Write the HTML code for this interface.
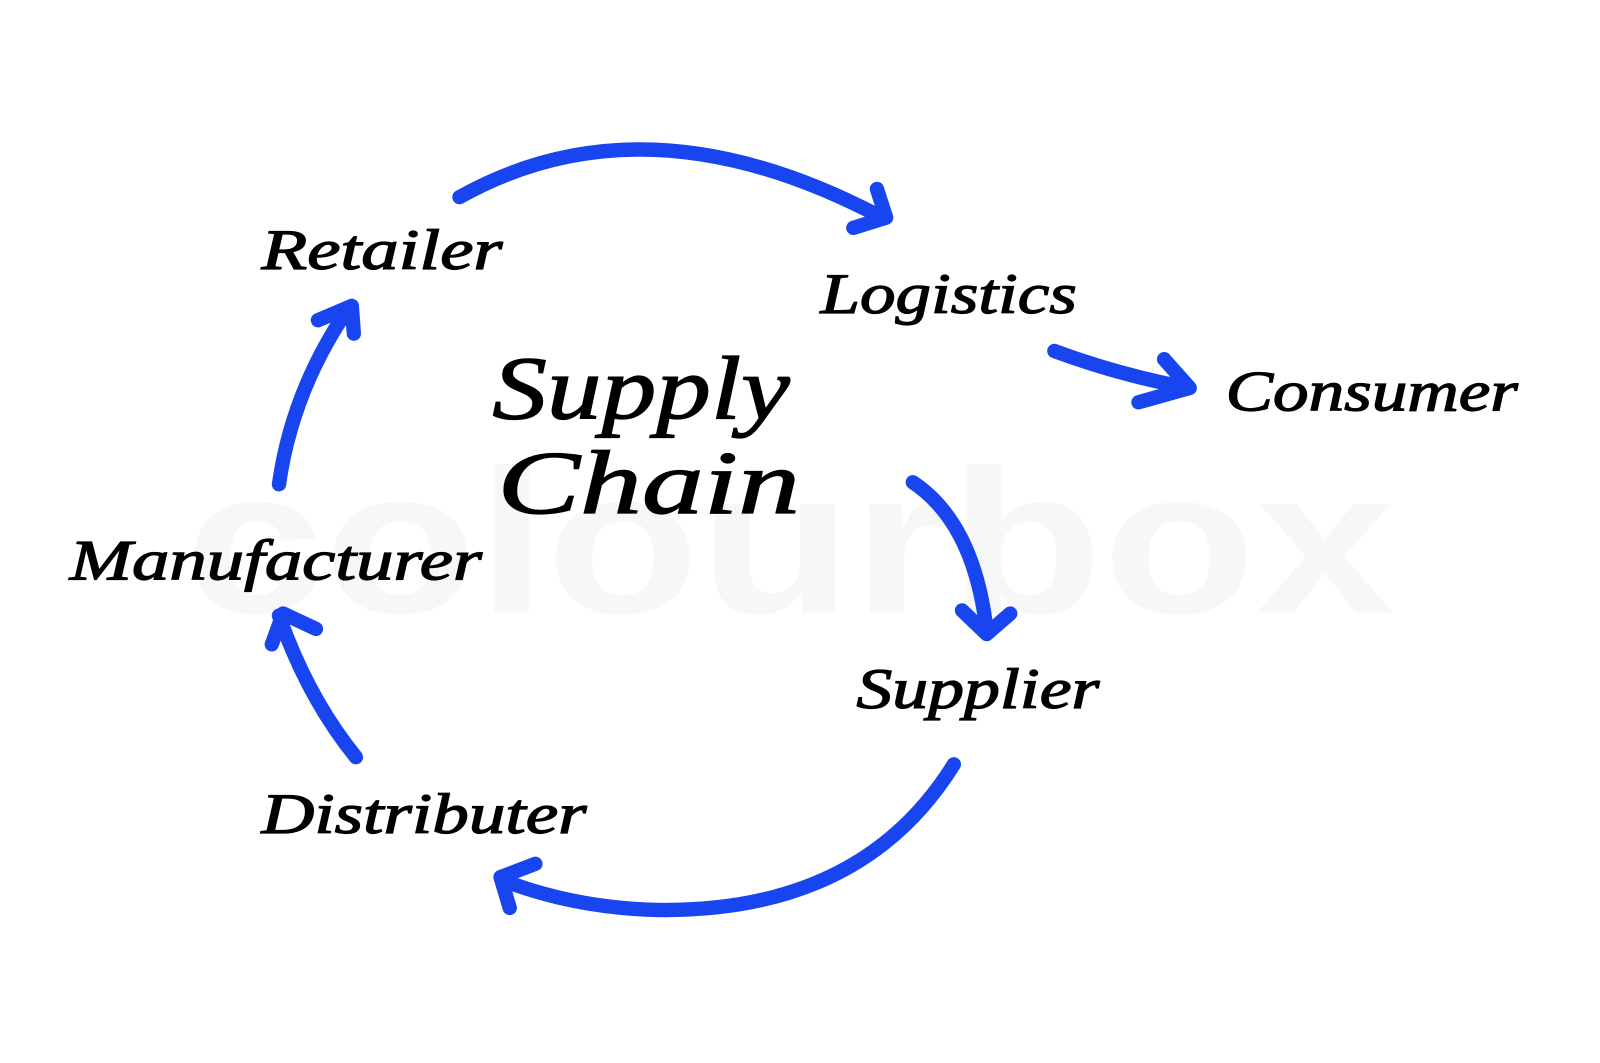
<!DOCTYPE html>
<html><head><style>body{margin:0;background:#fff}svg{display:block}</style></head><body>
<svg width="1600" height="1063" viewBox="0 0 1560 1036" xmlns="http://www.w3.org/2000/svg">
<rect width="1560" height="1036" fill="#fff"/>
<text x="180" y="597" font-family="Liberation Sans, sans-serif" font-weight="bold" font-size="200" fill="#f7f7f7" textLength="1180" lengthAdjust="spacingAndGlyphs">colourbox</text>
<g fill="none" stroke="#1845ef" stroke-width="14" stroke-linecap="round" stroke-linejoin="round">
<path d="M448,192 Q630,90 860,212"/><path d="M855,184 L864,212 L832,222"/>
<path d="M1028,342 Q1090,365 1158,378"/><path d="M1135,350 L1160,378 L1110,392"/>
<path d="M890,470 Q950,510 962,615"/><path d="M938,595 L962,618 L985,598"/>
<path d="M930,745 Q840,890 640,887 Q560,885 490,858"/><path d="M497,885 L488,855 L522,842"/>
<path d="M347,738 Q300,680 272,600"/><path d="M265,628 L276,598 L308,613"/>
<path d="M272,472 Q285,380 340,300"/><path d="M310,312 L343,298 L345,325"/>
</g>
<g font-family="Liberation Serif, serif" font-style="italic" fill="#000" stroke="#000" stroke-width="1.2" lengthAdjust="spacingAndGlyphs">
<text x="255" y="262" font-size="56" textLength="235" lengthAdjust="spacingAndGlyphs">Retailer</text>
<text x="800" y="305" font-size="56" textLength="250" lengthAdjust="spacingAndGlyphs">Logistics</text>
<text x="1195" y="400" font-size="56" textLength="285" lengthAdjust="spacingAndGlyphs">Consumer</text>
<text x="480" y="408" font-size="88" textLength="290" lengthAdjust="spacingAndGlyphs">Supply</text>
<text x="485" y="500" font-size="88" textLength="295" lengthAdjust="spacingAndGlyphs">Chain</text>
<text x="68" y="565" font-size="56" textLength="402" lengthAdjust="spacingAndGlyphs">Manufacturer</text>
<text x="835" y="690" font-size="56" textLength="237" lengthAdjust="spacingAndGlyphs">Supplier</text>
<text x="255" y="812" font-size="56" textLength="317" lengthAdjust="spacingAndGlyphs">Distributer</text>
</g>
</svg>
</body></html>
